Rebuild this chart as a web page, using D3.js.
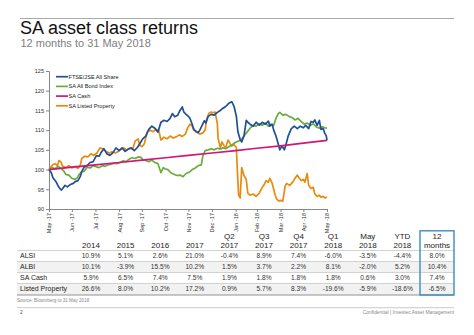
<!DOCTYPE html>
<html><head><meta charset="utf-8">
<script src="https://cdn.jsdelivr.net/npm/d3@7/dist/d3.min.js"></script>
<style>body{margin:0;background:#fff}svg{display:block;font-family:"Liberation Sans",Arial,sans-serif}</style>
</head><body><svg id="c" width="474" height="335"></svg>
<script>
const title = "SA asset class returns";
const subtitle = "12 months to 31 May 2018";
const seriesNames = ["FTSE/JSE All Share","SA All Bond Index","SA Cash","SA Listed Property"];
const seriesColors = ["#1f4f96","#6aac3c","#d1167a","#ea8a0c"];
const yTicks = [90,95,100,105,110,115,120,125];
const monthTickDays = [0,30,61,92,122,153,183,214,245,273,304,334,365];
const monthTickLabels = ["May -17","Jun -17","Jul -17","Aug -17","Sep -17","Oct -17","Nov -17","Dec -17","Jan -18","Feb -18","Mar -18","Apr -18","May -18"];

// [day since 31 May 2017, index value]
const alsi = [[0,100],[3,99.2],[5,98],[9,97],[13,95.5],[16,94.8],[18,95.2],[21,96],[24,95.6],[28,96.2],[32,96.5],[34,96.9],[38,97.2],[41,98.2],[43,99.5],[46,100.6],[50,101],[54,101.8],[58,102],[62,103.5],[66,103.4],[68,104.2],[72,105.3],[76,104],[80,103.6],[84,104.3],[88,105.5],[92,104.8],[96,105.5],[100,104.6],[104,105.2],[108,105.5],[112,104.8],[116,105.6],[119,106.5],[123,107.8],[127,108.5],[131,110.2],[135,111],[139,110.5],[143,109.5],[147,112],[151,112.5],[155,112.2],[159,113],[162,114.2],[165,113.4],[169,113.8],[172,115],[175,115.9],[177,114.6],[180,114],[183,113.5],[185,113],[188,111.5],[190,110.3],[193,109.6],[196,109.4],[198,110],[201,111.2],[204,112.4],[206,111.8],[209,113.5],[213,114],[217,113.8],[221,114.5],[225,115],[228,115.5],[232,116],[236,116.8],[240,117.2],[243,116],[246,113.5],[248,109.6],[251,107.6],[253,107],[256,108.5],[259,112.5],[261,112],[264,111.5],[268,111],[272,112],[276,111.3],[280,112],[284,111.5],[288,112.3],[290,111],[293,111.5],[295,110],[298,108.5],[301,106.5],[303,105],[306,106],[309,105],[311,106.2],[314,108.5],[318,110.3],[322,111],[326,110.4],[330,111],[334,110.6],[337,111.2],[341,110.4],[344,112.2],[347,112],[349,112.6],[352,111.2],[355,112.5],[357,110.2],[360,110.4],[362,109.2],[364,108.6],[365,107.4]];
const albi = [[0,100],[4,100.5],[8,100.2],[12,100.8],[16,100.3],[20,99.5],[22,98.8],[26,98.6],[30,97.8],[34,97.5],[37,97.9],[39,98.6],[42,99.3],[46,99.6],[50,100.6],[54,100.4],[58,101],[62,100.7],[66,100.5],[70,101],[74,100.8],[77,101.2],[81,101.3],[85,101.6],[89,101.5],[93,101.8],[97,102.2],[101,102],[105,102.6],[109,103],[113,102.8],[117,103.2],[121,103.1],[123,102.5],[127,102.3],[131,102],[135,102.4],[139,101.8],[143,101.5],[147,99.2],[150,100.5],[152,100.2],[156,100],[160,99.2],[164,98.8],[168,98.5],[172,98.6],[176,98.2],[180,99],[184,99.3],[188,100],[192,100.4],[196,101],[200,101.2],[202,103.5],[205,104.8],[209,105],[213,105.3],[217,105],[221,105.4],[225,105.2],[228,105.5],[232,105.3],[236,105.8],[240,106.2],[244,106.8],[248,107.2],[252,107.5],[256,108.5],[260,109.5],[264,110.5],[268,111.2],[272,111],[276,111.6],[280,111.2],[284,111.8],[288,111],[291,111.5],[295,111.2],[298,113],[301,114.2],[303,114.5],[307,113.8],[311,114],[315,113.5],[319,113.2],[323,112.6],[327,113],[331,112.2],[335,111.5],[339,111.8],[343,111.2],[347,111.6],[351,110.8],[355,110.5],[358,110.9],[362,110.6],[365,110.5]];
const cash = [[0,100],[30,100.6],[61,101.2],[92,101.8],[122,102.4],[153,103.0],[183,103.6],[214,104.2],[245,104.8],[273,105.4],[304,106.0],[334,106.7],[365,107.4]];
const property = [[0,100],[3,100.8],[5,101.2],[8,101.5],[11,101],[13,102.3],[16,101.8],[18,100.8],[22,100.5],[26,101],[30,100.4],[34,100.8],[38,100.3],[41,101],[43,102.8],[47,103.4],[51,103.2],[55,104],[59,103.6],[63,104.2],[67,105.5],[71,105.2],[75,104.6],[79,104.2],[83,104.5],[87,104.2],[91,104.6],[95,105.2],[98,105.5],[102,104.9],[106,105.4],[110,105.2],[113,107.2],[117,107.8],[119,106.2],[122,105.8],[125,106.5],[129,109.5],[133,110],[137,109.6],[140,110.2],[144,110],[147,107.5],[151,108.2],[155,107.8],[159,108.5],[163,108],[167,108.3],[171,108.8],[175,108.4],[179,109],[182,110.5],[185,111.5],[188,111],[190,110],[193,109.8],[196,109.2],[198,109],[202,109.3],[205,110],[207,112.8],[210,114.3],[213,114.6],[215,114.4],[218,114.6],[221,111.7],[222,108],[225,105.5],[227,107],[230,106],[232,105.5],[235,107.5],[238,106.5],[240,106],[243,106.3],[246,105.6],[247,101],[248,97],[249,93.5],[251,92.8],[253,100.5],[256,98.5],[259,97.5],[261,94],[264,93.5],[268,93.8],[272,93.2],[276,94],[280,95.5],[282,96],[285,97.2],[288,96.8],[290,97.8],[293,96.5],[295,95],[297,93.5],[299,92.5],[302,92],[304,92.2],[307,92],[310,95.8],[312,96.5],[316,96],[320,96.8],[323,97.8],[326,98.6],[328,98],[331,97.2],[334,97.5],[336,96.8],[339,99],[341,96],[344,95.2],[347,95.5],[349,93.8],[352,93.2],[355,93.5],[357,93],[360,93.2],[362,92.8],[365,93]];

const tableHead1 = ["","","","","Q2","Q3","Q4","Q1","May","YTD","12"];
const tableHead2 = ["2014","2015","2016","2017","2017","2017","2017","2018","2018","2018","months"];
const rowLabels = ["ALSI","ALBI","SA Cash","Listed Property"];
const rowALSI = ["10.9%","5.1%","2.6%","21.0%","-0.4%","8.9%","7.4%","-6.0%","-3.5%","-4.4%","8.0%"];
const rowALBI = ["10.1%","-3.9%","15.5%","10.2%","1.5%","3.7%","2.2%","8.1%","-2.0%","5.2%","10.4%"];
const rowCash = ["5.9%","6.5%","7.4%","7.5%","1.9%","1.8%","1.8%","1.8%","0.6%","3.0%","7.4%"];
const rowProperty = ["26.6%","8.0%","10.2%","17.2%","0.9%","5.7%","8.3%","-19.6%","-5.9%","-18.6%","-6.5%"];
const sourceText = "Source: Bloomberg to 31 May 2018";
const footerRight = "Confidential | Investec Asset Management";

const svg = d3.select("#c");

// header
svg.append("line").attr("x1",20).attr("x2",454).attr("y1",18.5).attr("y2",18.5).attr("stroke","#aaa").attr("stroke-width",1);
svg.append("text").attr("x",20).attr("y",33.5).attr("font-size",18).attr("fill","#111").text(title);
svg.append("text").attr("x",20.5).attr("y",46.8).attr("font-size",11).attr("fill","#808080").text(subtitle);

// chart
const start = 0, end = 365;
const x = d3.scaleLinear().domain([start,end]).range([49,327]);
const y = d3.scaleLinear().domain([90,125]).range([209,71]);

const yAxis = svg.append("g").attr("transform","translate(49,0)")
  .call(d3.axisLeft(y).tickValues(yTicks).tickSize(3).tickPadding(2));
yAxis.select(".domain").attr("stroke","#888");
yAxis.selectAll(".tick line").attr("stroke","#888");
yAxis.selectAll("text").attr("font-size",5.6).attr("fill","#333").attr("font-family","Liberation Sans, Arial, sans-serif");

const xAxis = svg.append("g").attr("transform","translate(0,209)")
  .call(d3.axisBottom(x).tickValues(monthTickDays).tickSize(3).tickFormat((d,i)=>monthTickLabels[i]));
xAxis.select(".domain").attr("stroke","#888");
xAxis.selectAll(".tick line").attr("stroke","#888");
xAxis.selectAll("text").attr("font-size",5.6).attr("fill","#333").attr("font-family","Liberation Sans, Arial, sans-serif")
  .attr("text-anchor","end").attr("transform","rotate(-90)").attr("x",-4).attr("y",0).attr("dy","0.35em");

const line = d3.line().x(d=>x(d[0])).y(d=>y(d[1]));
const allSeries = [alsi, albi, cash, property];
const drawOrder = [3,1,0,2];
drawOrder.forEach(i=>{
  svg.append("path").datum(allSeries[i]).attr("d",line).attr("fill","none")
    .attr("stroke",seriesColors[i]).attr("stroke-width",1.7).attr("stroke-linejoin","round");
});

// legend
const leg = d3.scalePoint().domain(seriesNames).range([76.7,105.8]);
seriesNames.forEach((n,i)=>{
  svg.append("line").attr("x1",56).attr("x2",68).attr("y1",leg(n)).attr("y2",leg(n))
    .attr("stroke",seriesColors[i]).attr("stroke-width",1.7);
  svg.append("text").attr("x",68.5).attr("y",leg(n)).attr("dy","0.35em").attr("font-size",5.6).attr("fill","#222").text(n);
});

// table
const cols = d3.scalePoint().domain(d3.range(11)).range([91,437]);
const rowsData = [rowALSI,rowALBI,rowCash,rowProperty];
const rowY = d3.scalePoint().domain(rowLabels).range([257.6,291]);
const rowTop = [250.5,261.5,272.5,283.5];
const rowBottom = 295;
// shading
[1,3].forEach(i=>{
  svg.append("rect").attr("x",17).attr("y",rowTop[i]).attr("width",437).attr("height",(i<3?rowTop[i+1]:rowBottom)-rowTop[i]).attr("fill","#f2f2f2");
});
rowTop.forEach(t=>{
  svg.append("line").attr("x1",17).attr("x2",454).attr("y1",t).attr("y2",t).attr("stroke","#c8c8c8").attr("stroke-width",0.8);
});
svg.append("line").attr("x1",17).attr("x2",454).attr("y1",rowBottom).attr("y2",rowBottom).attr("stroke","#777").attr("stroke-width",0.8);

tableHead1.forEach((h,i)=>{ if(h) svg.append("text").attr("x",cols(i)).attr("y",239).attr("text-anchor","middle").attr("font-size",8).attr("fill","#222").text(h); });
tableHead2.forEach((h,i)=>{ svg.append("text").attr("x",cols(i)).attr("y",247.8).attr("text-anchor","middle").attr("font-size",8).attr("fill","#222").text(h); });
rowLabels.forEach((r,ri)=>{
  svg.append("text").attr("x",20).attr("y",rowY(r)).attr("font-size",7).attr("fill","#222").text(r);
  rowsData[ri].forEach((v,ci)=>{
    svg.append("text").attr("x",cols(ci)).attr("y",rowY(r)).attr("text-anchor","middle").attr("font-size",6.6).attr("fill","#333").text(v);
  });
});
// highlighted 12 months column
svg.append("rect").attr("x",420).attr("y",230.8).attr("width",34).attr("height",64.2)
  .attr("fill","none").attr("stroke","#3a8ec0").attr("stroke-width",1.4);

// footer
svg.append("text").attr("x",17).attr("y",302).attr("font-size",4.6).attr("fill","#888").text(sourceText);
svg.append("line").attr("x1",17).attr("x2",454).attr("y1",307.7).attr("y2",307.7).attr("stroke","#bbb").attr("stroke-width",0.8);
svg.append("text").attr("x",20).attr("y",313.5).attr("font-size",5).attr("fill","#555").text("2");
svg.append("text").attr("x",454).attr("y",313.5).attr("text-anchor","end").attr("font-size",4.9).attr("fill","#888").text(footerRight);
</script></body></html>
